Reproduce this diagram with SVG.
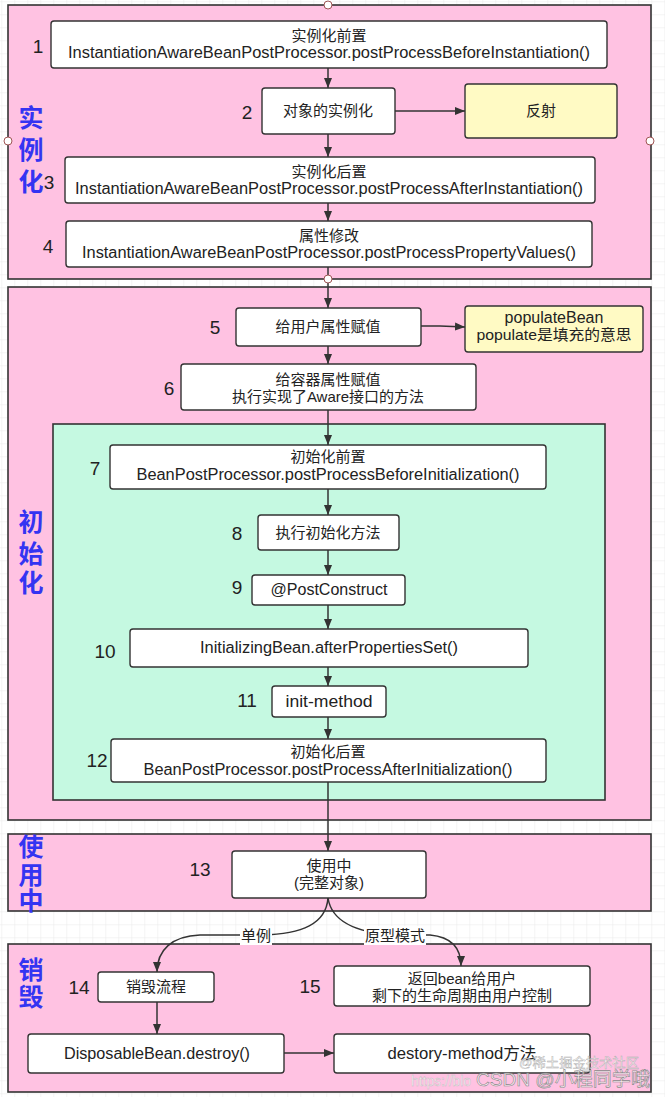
<svg xmlns="http://www.w3.org/2000/svg" width="665" height="1097" viewBox="0 0 665 1097">
<defs>
<pattern id="grid" x="1.3" y="1.3" width="13" height="13" patternUnits="userSpaceOnUse">
<path d="M13 0 L0 0 0 13" fill="none" stroke="#e4e4e4" stroke-width="0.8"/>
</pattern>
<marker id="arr" viewBox="0 0 10 10" refX="10" refY="5" markerWidth="10" markerHeight="10" markerUnits="userSpaceOnUse" orient="auto">
<path d="M0 1 L10 5 L0 9 Z" fill="#333"/>
</marker>
</defs>
<style>
.sec{fill:#ffc2e2;stroke:#333;stroke-width:1.6}
.green{fill:#c5f9e1;stroke:#333;stroke-width:1.6}
.box{fill:#fff;stroke:#333;stroke-width:1.4}
.yel{fill:#fffac4;stroke:#333;stroke-width:1.4}
text{font-family:"Liberation Sans","Noto Sans CJK SC",sans-serif;fill:#222;text-anchor:middle}
.t{font-size:15px}
.l{font-size:16px}
.num{font-size:19px}
.title{font-size:25px;fill:#3434f2;font-weight:bold}
.el{font-size:15px}
.edge{fill:none;stroke:#333;stroke-width:1.5}
.h{fill:#fff;stroke:#a05555;stroke-width:1}
.wm{text-anchor:start;fill:#fff;fill-opacity:0.7}
</style>
<rect width="665" height="1097" fill="#fff"/>
<rect width="665" height="1097" fill="url(#grid)"/>

<g id="section-instantiate">
<rect class="sec" x="8" y="5" width="643" height="274"/>
<text class="title" x="31" y="127">实</text>
<text class="title" x="31" y="159">例</text>
<text class="title" x="31" y="191">化</text>
</g>
<g id="section-init">
<rect class="sec" x="8" y="287" width="643" height="533"/>
<text class="title" x="31" y="531">初</text>
<text class="title" x="31" y="563">始</text>
<text class="title" x="31" y="592">化</text>
</g>
<g id="section-use">
<rect class="sec" x="8" y="834" width="643" height="77"/>
<text class="title" x="31" y="856">使</text>
<text class="title" x="31" y="884">用</text>
<text class="title" x="31" y="910">中</text>
</g>
<g id="section-destroy">
<rect class="sec" x="8" y="944" width="643" height="148"/>
<text class="title" x="31" y="979">销</text>
<text class="title" x="31" y="1006">毁</text>
</g>
<g id="green-init">
<rect class="green" x="53" y="424" width="552" height="376"/>
</g>

<g id="connectors">
<path class="edge" d="M328 68 L328 88" marker-end="url(#arr)"/>
<path class="edge" d="M328 134 L328 157" marker-end="url(#arr)"/>
<path class="edge" d="M328 203 L328 221" marker-end="url(#arr)"/>
<path class="edge" d="M328 267 L328 308" marker-end="url(#arr)"/>
<path class="edge" d="M395 111 L465 111" marker-end="url(#arr)"/>
<path class="edge" d="M421 326 L440 326 L465 327" marker-end="url(#arr)"/>
<path class="edge" d="M328 346 L328 364" marker-end="url(#arr)"/>
<path class="edge" d="M328 410 L328 445" marker-end="url(#arr)"/>
<path class="edge" d="M328 489 L328 515" marker-end="url(#arr)"/>
<path class="edge" d="M328 550 L328 575" marker-end="url(#arr)"/>
<path class="edge" d="M328 605 L328 629" marker-end="url(#arr)"/>
<path class="edge" d="M328 667 L328 686" marker-end="url(#arr)"/>
<path class="edge" d="M328 717 L328 739" marker-end="url(#arr)"/>
<path class="edge" d="M328 782 L328 851" marker-end="url(#arr)"/>
<path class="edge" d="M328 898 C326 924 302 934 262 935 L200 935 C172 936 157 950 157 972" marker-end="url(#arr)"/>
<path class="edge" d="M328 898 C332 924 360 933 395 935 L430 935 C452 937 461 948 461 966" marker-end="url(#arr)"/>
<path class="edge" d="M157 1002 L157 1034" marker-end="url(#arr)"/>
<path class="edge" d="M284 1053 L334 1053" marker-end="url(#arr)"/>
<rect x="240" y="926" width="32" height="19" fill="#fff"/>
<text class="el" x="256" y="941">单例</text>
<rect x="364" y="926" width="62" height="19" fill="#fff"/>
<text class="el" x="395" y="941">原型模式</text>
</g>

<g id="n1">
<rect class="box" x="51" y="21" width="556" height="47" rx="3"/>
<text class="t" x="329" y="41">实例化前置</text>
<text class="l" x="329" y="58" textLength="522" lengthAdjust="spacingAndGlyphs">InstantiationAwareBeanPostProcessor.postProcessBeforeInstantiation()</text>
<text class="num" x="38" y="53">1</text>
</g>
<g id="n2">
<rect class="box" x="262" y="88" width="133" height="46" rx="3"/>
<text class="t" x="328" y="116">对象的实例化</text>
<text class="num" x="247" y="119">2</text>
</g>
<g id="reflect">
<rect class="yel" x="465" y="84" width="152" height="54" rx="3"/>
<text class="t" x="541" y="116">反射</text>
</g>
<g id="n3">
<rect class="box" x="65" y="157" width="530" height="46" rx="3"/>
<text class="t" x="329" y="177">实例化后置</text>
<text class="l" x="329" y="194" textLength="508" lengthAdjust="spacingAndGlyphs">InstantiationAwareBeanPostProcessor.postProcessAfterInstantiation()</text>
<text class="num" x="49" y="189">3</text>
</g>
<g id="n4">
<rect class="box" x="66" y="221" width="526" height="46" rx="3"/>
<text class="t" x="329" y="241">属性修改</text>
<text class="l" x="329" y="258" textLength="494" lengthAdjust="spacingAndGlyphs">InstantiationAwareBeanPostProcessor.postProcessPropertyValues()</text>
<text class="num" x="48" y="253">4</text>
</g>
<g id="n5">
<rect class="box" x="236" y="308" width="185" height="38" rx="3"/>
<text class="t" x="328" y="332">给用户属性赋值</text>
<text class="num" x="215" y="334">5</text>
</g>
<g id="populate">
<rect class="yel" x="465" y="306" width="178" height="46" rx="3"/>
<text class="l" x="554" y="323">populateBean</text>
<text class="t" x="554" y="340" textLength="155" lengthAdjust="spacingAndGlyphs">populate是填充的意思</text>
</g>
<g id="n6">
<rect class="box" x="181" y="364" width="295" height="46" rx="3"/>
<text class="t" x="328" y="385">给容器属性赋值</text>
<text class="t" x="328" y="402">执行实现了Aware接口的方法</text>
<text class="num" x="169" y="395">6</text>
</g>
<g id="n7">
<rect class="box" x="110" y="445" width="436" height="44" rx="3"/>
<text class="t" x="328" y="462">初始化前置</text>
<text class="l" x="328" y="480" textLength="383" lengthAdjust="spacingAndGlyphs">BeanPostProcessor.postProcessBeforeInitialization()</text>
<text class="num" x="95" y="475">7</text>
</g>
<g id="n8">
<rect class="box" x="258" y="515" width="141" height="35" rx="3"/>
<text class="t" x="328" y="538">执行初始化方法</text>
<text class="num" x="237" y="540">8</text>
</g>
<g id="n9">
<rect class="box" x="252" y="575" width="153" height="30" rx="3"/>
<text class="l" x="329" y="595" textLength="117" lengthAdjust="spacingAndGlyphs">@PostConstruct</text>
<text class="num" x="237" y="594">9</text>
</g>
<g id="n10">
<rect class="box" x="130" y="629" width="398" height="38" rx="3"/>
<text class="l" x="329" y="653" textLength="258" lengthAdjust="spacingAndGlyphs">InitializingBean.afterPropertiesSet()</text>
<text class="num" x="105" y="658">10</text>
</g>
<g id="n11">
<rect class="box" x="272" y="686" width="114" height="31" rx="3"/>
<text class="l" x="329" y="707" textLength="87" lengthAdjust="spacingAndGlyphs">init-method</text>
<text class="num" x="247" y="707">11</text>
</g>
<g id="n12">
<rect class="box" x="111" y="739" width="435" height="43" rx="3"/>
<text class="t" x="328" y="757">初始化后置</text>
<text class="l" x="328" y="775" textLength="369" lengthAdjust="spacingAndGlyphs">BeanPostProcessor.postProcessAfterInitialization()</text>
<text class="num" x="97" y="767">12</text>
</g>
<g id="n13">
<rect class="box" x="232" y="851" width="194" height="47" rx="3"/>
<text class="t" x="329" y="871">使用中</text>
<text class="t" x="329" y="888">(完整对象)</text>
<text class="num" x="200" y="876">13</text>
</g>
<g id="n14">
<rect class="box" x="98" y="972" width="116" height="30" rx="3"/>
<text class="t" x="156" y="992">销毁流程</text>
<text class="num" x="79" y="994">14</text>
</g>
<g id="n15">
<rect class="box" x="334" y="966" width="256" height="40" rx="3"/>
<text class="t" x="462" y="984">返回bean给用户</text>
<text class="t" x="462" y="1001">剩下的生命周期由用户控制</text>
<text class="num" x="310" y="993">15</text>
</g>
<g id="n16">
<rect class="box" x="28" y="1034" width="256" height="39" rx="3"/>
<text class="l" x="157" y="1059" textLength="186" lengthAdjust="spacingAndGlyphs">DisposableBean.destroy()</text>
</g>
<g id="n17">
<rect class="box" x="334" y="1034" width="256" height="39" rx="3"/>
<text class="l" x="462" y="1059" textLength="149" lengthAdjust="spacingAndGlyphs">destory-method方法</text>
</g>

<g id="handles">
<circle class="h" cx="328" cy="5" r="4"/>
<circle class="h" cx="8" cy="141" r="4"/>
<circle class="h" cx="650" cy="141" r="4"/>
<circle class="h" cx="328" cy="279" r="4"/>
</g>

<g id="watermark">
<text class="wm" x="519" y="1067" textLength="120" lengthAdjust="spacingAndGlyphs" style="font-size:13px;stroke:#aaa;stroke-width:0.4">@稀土掘金技术社区</text>
<text class="wm" x="411" y="1086" textLength="60" lengthAdjust="spacingAndGlyphs" style="font-size:15px;stroke:#bbb;stroke-width:0.4">https://blo</text>
<text class="wm" x="476" y="1086" textLength="174" lengthAdjust="spacingAndGlyphs" style="font-size:19px;stroke:#888;stroke-width:0.6">CSDN @小程同学哦</text>
</g>
</svg>
